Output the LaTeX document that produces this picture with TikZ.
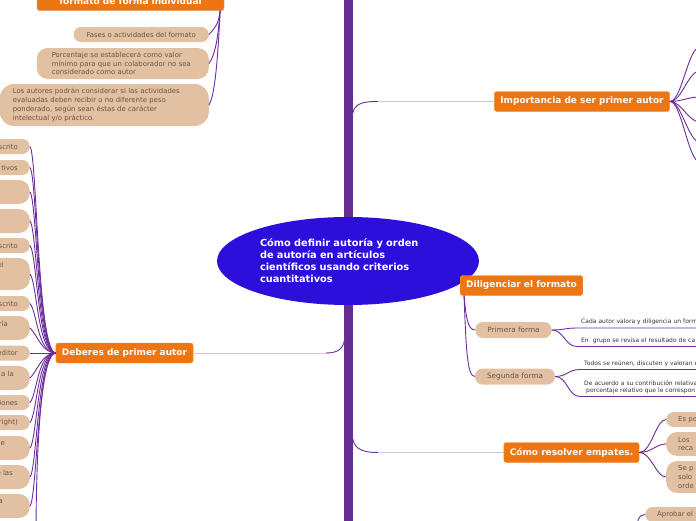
\documentclass[tikz,border=0pt]{standalone}
\usepackage{fontspec}
\setmainfont{DejaVu Sans}
\usepackage{tikz}
\usetikzlibrary{shapes.geometric}
\definecolor{mmtrunk}{HTML}{662D91}
\definecolor{mmline}{HTML}{6C2E9C}
\definecolor{mmlight}{HTML}{D3C2E4}
\definecolor{mmcore}{HTML}{2D0FDC}
\definecolor{mmorange}{HTML}{EE7612}
\definecolor{mmtan}{HTML}{E2C1A2}
\definecolor{mmtext}{HTML}{6B5444}
\tikzset{
  trunkline/.style={draw=mmtrunk, line width=8.5pt},
  link/.style={draw=mmline, line width=0.9pt},
  softlink/.style={draw=mmlight, line width=1pt},
  core/.style={ellipse, fill=mmcore, text=white, minimum width=262pt, minimum height=88pt,
    inner sep=0pt, font=\fontsize{9.8}{12}\selectfont\bfseries},
  topic/.style={fill=mmorange, draw=mmorange!80!white, rounded corners=2.5pt, text=white,
    font=\fontsize{9}{10}\selectfont\bfseries, minimum height=20pt, inner xsep=6pt},
  leaf/.style={fill=mmtan, text=mmtext, rounded corners=7.5pt, font=\fontsize{6.9}{8.7}\selectfont,
    inner xsep=13pt, inner ysep=3pt, minimum height=15pt},
  tallleaf/.style={rounded corners=11pt, minimum height=#1},
  stubl/.style={leaf, anchor=east, text width=50pt, align=right, inner xsep=12pt},
  stubr/.style={leaf, anchor=west, text width=50pt, align=left, inner xsep=12pt},
  formleaf/.style={leaf, font=\fontsize{7.3}{8}\selectfont, inner xsep=12pt, minimum height=16pt},
  notetext/.style={text=black!80, font=\fontsize{6}{6.8}\selectfont, align=left, text width=130pt,
    inner xsep=4pt, inner ysep=3pt, anchor=south west}
}
\begin{document}
\begin{tikzpicture}[x=1pt, y=-1pt]
    \useasboundingbox (0,0) rectangle (696,520);
    \clip (0,0) rectangle (696,520);

    % trunk and central topic
    \coordinate (ttop) at (348.5,-5);
    \coordinate (tbot) at (348.5,525);
    \draw[trunkline] (ttop) -- (tbot);
    \node[core, text width=176pt, align=left] (core) at (348,261)
        {Cómo definir autoría y orden\\de autoría en artículos\\científicos usando criterios\\cuantitativos};

    % main topics
    \node[topic] (imp) at (582,101.5) {Importancia de ser primer autor};
    \node[topic] (dil) at (521.5,285.5) {Diligenciar el formato};
    \node[topic] (deb) at (124.5,353) {Deberes de primer autor};
    \node[topic] (emp) at (571.5,452.5) {Cómo resolver empates.};
    \node[topic, minimum width=187pt, minimum height=18pt] (fmt) at (130.5,1.5) {formato de forma individual};

    % formato children
    \node[leaf, anchor=east] (fas) at (209,34.5) {Fases o actividades del formato};
    \node[leaf, tallleaf=31pt, anchor=east, text width=142pt, align=left, inner xsep=15pt] (por) at (209,63.5)
        {Porcentaje se establecerá como valor\\mínimo para que un colaborador no sea\\considerado como autor};
    \node[leaf, tallleaf=42pt, rounded corners=14pt, anchor=east, text width=183pt, align=left, inner xsep=13pt] (aut) at (209,105)
        {Los autores podrán considerar si las actividades\\evaluadas deben recibir o no diferente peso\\ponderado, según sean éstas de carácter\\intelectual y/o práctico.};

    % deberes children
    \node[stubl] (d1) at (30,146.5) {scrito};
    \node[stubl] (d2) at (30,167.5) {tivos};
    \node[stubl, tallleaf=24pt] (d3) at (30,192) {~\\~};
    \node[stubl, tallleaf=24pt] (d4) at (30,221) {~\\~};
    \node[stubl] (d5) at (30,245.5) {scrito};
    \node[stubl, tallleaf=32pt] (d6) at (30,274) {el\hbox to 14pt{}\\~\\~};
    \node[stubl] (d7) at (30,303.5) {scrito};
    \node[stubl, tallleaf=24pt] (d8) at (30,328) {ría\hbox to 10pt{}\\~};
    \node[stubl] (d9) at (30,353) {editor};
    \node[stubl, tallleaf=24pt] (d10) at (30,378) {a la\hbox to 4pt{}\\~};
    \node[stubl] (d11) at (30,402.5) {iones};
    \node[stubl] (d12) at (30,422.5) {right)};
    \node[stubl, tallleaf=24pt] (d13) at (30,448) {e\hbox to 13pt{}\\~};
    \node[stubl, tallleaf=24pt] (d14) at (30,477) {e las\hbox to 5pt{}\\~};
    \node[stubl, tallleaf=24pt] (d15) at (30,506) {a\hbox to 15pt{}\\~};
    \coordinate (dz) at (36,535);

    % diligenciar children
    \node[formleaf] (pf) at (513.5,330) {Primera forma};
    \node[formleaf] (sf) at (515,376.5) {Segunda forma};
    \node[notetext] (c1) at (577,328) {Cada autor valora y diligencia un form};
    \node[notetext] (c2) at (577,346.5) {En~ grupo se revisa el resultado de ca};
    \node[notetext] (c3) at (580,369.5) {Todos se reúnen, discuten y valoran e};
    \node[notetext] (c4) at (580,396.5) {De acuerdo a su contribución relativa\\\hspace*{2pt}porcentaje relativo que le correspon};

    % empates children
    \node[stubr] (e1) at (666,419.5) {Es po};
    \node[stubr, tallleaf=24pt] (e2) at (666,444) {Los\\reca};
    \node[stubr, tallleaf=32pt] (e3) at (666,477) {Se p\\solo\\orde};
    \node[stubr] (apr) at (645,514.5) {Aprobar el};
    \coordinate (a0) at (636,540);

    % importancia children (off the page)
    \coordinate (i1) at (700,47);
    \coordinate (i2) at (700,71);
    \coordinate (i3) at (700,97);
    \coordinate (i4) at (700,122);
    \coordinate (i5) at (700,142);
    \coordinate (i6) at (700,162);

    % links to the trunk
    \coordinate (t1) at (352,120);
    \coordinate (k1) at (378,101.5);
    \draw[link] (t1) .. controls (352,104) and (360,101.5) .. (k1);
    \draw[softlink] (k1) -- (imp.west);
    \coordinate (t2) at (345,334);
    \coordinate (k2) at (326,353);
    \draw[link] (t2) .. controls (345,349) and (338,353) .. (k2);
    \draw[softlink] (k2) -- (deb.east);
    \coordinate (t3) at (352,432);
    \coordinate (k3) at (378,452.5);
    \draw[link] (t3) .. controls (352,448) and (360,452.5) .. (k3);
    \draw[softlink] (k3) -- (emp.west);

    % formato links
    \draw[link] ([xshift=-4pt]fmt.south east) .. controls +(-2,14) and +(7,-8) .. (fas.east);
    \draw[link] ([xshift=-4pt]fmt.south east) .. controls +(-2,24) and +(7,-10) .. (por.east);
    \draw[link] ([xshift=-4pt]fmt.south east) .. controls +(-2,36) and +(7,-12) .. (aut.east);

    % deberes links
    \draw[link] (deb.west) .. controls +(-18,0) and +(7,8) .. (d1.east);
    \draw[link] (deb.west) .. controls +(-18,0) and +(7,8) .. (d2.east);
    \draw[link] (deb.west) .. controls +(-18,0) and +(7,8) .. (d3.east);
    \draw[link] (deb.west) .. controls +(-18,0) and +(7,8) .. (d4.east);
    \draw[link] (deb.west) .. controls +(-18,0) and +(7,8) .. (d5.east);
    \draw[link] (deb.west) .. controls +(-18,0) and +(7,8) .. (d6.east);
    \draw[link] (deb.west) .. controls +(-18,0) and +(7,8) .. (d7.east);
    \draw[link] (deb.west) .. controls +(-14,0) and +(7,6) .. (d8.east);
    \draw[link] (deb.west) -- (d9.east);
    \draw[link] (deb.west) .. controls +(-14,0) and +(7,-6) .. (d10.east);
    \draw[link] (deb.west) .. controls +(-18,0) and +(7,-8) .. (d11.east);
    \draw[link] (deb.west) .. controls +(-18,0) and +(7,-8) .. (d12.east);
    \draw[link] (deb.west) .. controls +(-18,0) and +(7,-8) .. (d13.east);
    \draw[link] (deb.west) .. controls +(-18,0) and +(7,-8) .. (d14.east);
    \draw[link] (deb.west) .. controls +(-18,0) and +(7,-8) .. (d15.east);
    \draw[link] (deb.west) .. controls +(-18,0) and +(0,-40) .. (dz);

    % diligenciar links
    \draw[link] ([xshift=4pt]dil.south west) .. controls +(2,20) and +(-8,0) .. (pf.west);
    \draw[link] ([xshift=4pt]dil.south west) .. controls +(2,50) and +(-8,0) .. (sf.west);
    \draw[link] (pf.east) .. controls +(12,0) and +(-12,0) .. (c1.south west) -- (c1.south east);
    \draw[link] (pf.east) .. controls +(12,0) and +(-12,0) .. (c2.south west) -- (c2.south east);
    \draw[link] (sf.east) .. controls +(12,0) and +(-12,0) .. (c3.south west) -- (c3.south east);
    \draw[link] (sf.east) .. controls +(12,0) and +(-12,0) .. (c4.south west) -- (c4.south east);

    % empates links
    \draw[link] (emp.east) .. controls +(12,0) and +(-10,0) .. (e1.west);
    \draw[link] (emp.east) .. controls +(12,0) and +(-10,0) .. (e2.west);
    \draw[link] (emp.east) .. controls +(12,0) and +(-10,0) .. (e3.west);
    \draw[link] (a0) .. controls +(0,-20) and +(-6,0) .. (apr.west);

    % importancia links
    \draw[link] (imp.east) .. controls +(12,0) and +(-12,0) .. (i1);
    \draw[link] (imp.east) .. controls +(12,0) and +(-12,0) .. (i2);
    \draw[link] (imp.east) .. controls +(12,0) and +(-12,0) .. (i3);
    \draw[link] (imp.east) .. controls +(12,0) and +(-12,0) .. (i4);
    \draw[link] (imp.east) .. controls +(12,0) and +(-12,0) .. (i5);
    \draw[link] (imp.east) .. controls +(12,0) and +(-12,0) .. (i6);
\end{tikzpicture}
\end{document}
